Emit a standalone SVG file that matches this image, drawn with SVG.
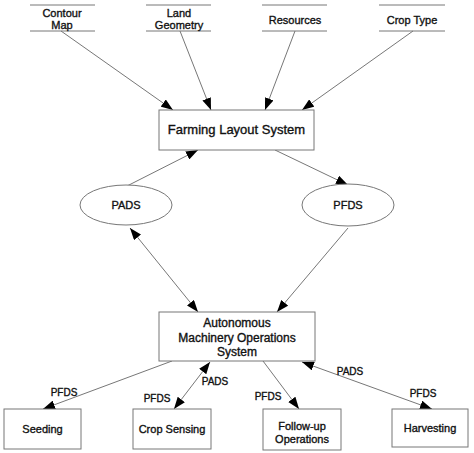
<svg xmlns="http://www.w3.org/2000/svg" width="474" height="453" viewBox="0 0 474 453">
<style>
text{font-family:"Liberation Sans",Arial,sans-serif;fill:#111;stroke:#111;stroke-width:0.35;text-anchor:middle}
.t11{font-size:11px}
.t12{font-size:12px}
.t13{font-size:13px}
.lab{font-size:10px}
.box{fill:#fff;stroke:#777;stroke-width:1}
.store{stroke:#777;stroke-width:1}
.ell{fill:#fff;stroke:#777;stroke-width:1}
.c{stroke:#777;stroke-width:1;fill:none;marker-end:url(#ah)}
.d{marker-start:url(#ah)}
</style>
<defs>
<marker id="ah" viewBox="0 0 12 9" refX="12" refY="4.5" markerWidth="12" markerHeight="9" markerUnits="userSpaceOnUse" orient="auto-start-reverse">
<path d="M0,0 L12,4.5 L0,9 z" fill="#000"/>
</marker>
</defs>
<g id="connectors">
<line class="c" x1="61" y1="31" x2="173" y2="110"/>
<line class="c" x1="180" y1="31" x2="211" y2="110"/>
<line class="c" x1="295" y1="31" x2="265" y2="110"/>
<line class="c" x1="413" y1="31" x2="302" y2="110"/>
<line class="c" x1="127" y1="186" x2="198" y2="150"/>
<line class="c" x1="275" y1="150" x2="348" y2="185"/>
<line class="c d" x1="130" y1="228" x2="198" y2="312"/>
<line class="c" x1="348" y1="228" x2="277" y2="312"/>
<line class="c" x1="172" y1="361" x2="43" y2="409"/>
<line class="c d" x1="210" y1="362" x2="174" y2="409"/>
<line class="c" x1="263" y1="361" x2="299" y2="409"/>
<line class="c d" x1="302" y1="362" x2="432" y2="409"/>
<text class="lab" x="64" y="396">PFDS</text>
<text class="lab" x="215" y="385">PADS</text>
<text class="lab" x="157" y="402">PFDS</text>
<text class="lab" x="268" y="400">PFDS</text>
<text class="lab" x="350" y="375">PADS</text>
<text class="lab" x="423" y="397">PFDS</text>
</g>
<g id="contour-map">
<line class="store" x1="30" y1="5" x2="95" y2="5"/>
<line class="store" x1="30" y1="31" x2="95" y2="31"/>
<text class="t11" x="62" y="16.5">Contour</text>
<text class="t11" x="62" y="28.5">Map</text>
</g>
<g id="land-geometry">
<line class="store" x1="146" y1="5" x2="211" y2="5"/>
<line class="store" x1="146" y1="31" x2="211" y2="31"/>
<text class="t11" x="179" y="16.5">Land</text>
<text class="t11" x="179" y="28.5">Geometry</text>
</g>
<g id="resources">
<line class="store" x1="262" y1="5" x2="327" y2="5"/>
<line class="store" x1="262" y1="31" x2="327" y2="31"/>
<text class="t11" x="295" y="23.5">Resources</text>
</g>
<g id="crop-type">
<line class="store" x1="379" y1="5" x2="445" y2="5"/>
<line class="store" x1="379" y1="31" x2="445" y2="31"/>
<text class="t11" x="412" y="23.5">Crop Type</text>
</g>
<g id="farming-layout-system">
<rect class="box" x="159" y="110" width="155" height="40"/>
<text class="t13" x="236.5" y="133.5">Farming Layout System</text>
</g>
<g id="pads">
<ellipse class="ell" cx="126" cy="205" rx="46" ry="20"/>
<text class="t11" x="126" y="209">PADS</text>
</g>
<g id="pfds">
<ellipse class="ell" cx="348" cy="205" rx="46" ry="21"/>
<text class="t11" x="348" y="208.5">PFDS</text>
</g>
<g id="amos">
<rect class="box" x="159" y="312" width="156" height="49"/>
<text class="t12" x="237" y="327">Autonomous</text>
<text class="t12" x="237" y="341.5">Machinery Operations</text>
<text class="t12" x="237" y="356">System</text>
</g>
<g id="seeding">
<rect class="box" x="4" y="409" width="77" height="40"/>
<text class="t11" x="42.5" y="433">Seeding</text>
</g>
<g id="crop-sensing">
<rect class="box" x="133" y="409" width="78" height="40"/>
<text class="t11" x="172" y="433">Crop Sensing</text>
</g>
<g id="follow-up-operations">
<rect class="box" x="263" y="409" width="78" height="41"/>
<text class="t11" x="302" y="430">Follow-up</text>
<text class="t11" x="302" y="443">Operations</text>
</g>
<g id="harvesting">
<rect class="box" x="392" y="409" width="76" height="38"/>
<text class="t11" x="430" y="432">Harvesting</text>
</g>
</svg>
